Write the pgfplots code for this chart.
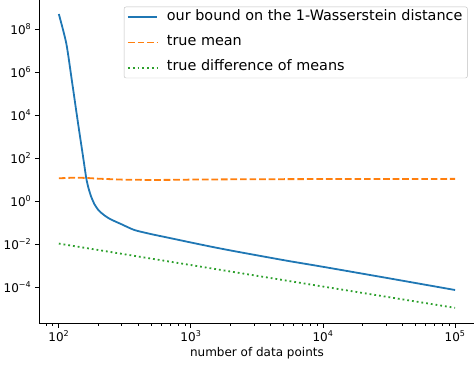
\documentclass[border=0pt]{standalone}
\usepackage{fontspec}
\setmainfont{DejaVu Sans}
\usepackage{pgfplots}
\pgfplotsset{compat=1.18}
\definecolor{c0}{HTML}{1F77B4}
\definecolor{c1}{HTML}{FF7F0E}
\definecolor{c2}{HTML}{2CA02C}
\begin{document}
\begin{tikzpicture}
\begin{axis}[
  scale only axis, width=435.9pt, height=324.1pt,
  xmode=log, ymode=log,
  xmin=70.79, xmax=141254, ymin=2.04e-6, ymax=2.51e9,
  axis line style={line width=0.96pt},
  tick align=outside, xtick pos=left, ytick pos=left,
  major tick length=4.2pt, minor tick length=2.4pt,
  every major tick/.style={line width=0.96pt, black},
  every minor tick/.style={line width=0.72pt, black},
  xtick={100,1000,10000,100000},
  xticklabels={10\textsuperscript{2},10\textsuperscript{3},10\textsuperscript{4},10\textsuperscript{5}},
  minor xtick={80,90,200,300,400,500,600,700,800,900,2000,3000,4000,5000,6000,7000,8000,9000,20000,30000,40000,50000,60000,70000,80000,90000},
  ytick={1e-4,1e-2,1,1e2,1e4,1e6,1e8},
  yticklabels={10\textsuperscript{−4},10\textsuperscript{−2},10\textsuperscript{0},10\textsuperscript{2},10\textsuperscript{4},10\textsuperscript{6},10\textsuperscript{8}},
  yminorticks=false,
  tick label style={font=\fontsize{12}{14}\selectfont},
  xlabel={number of data points},
  xlabel style={font=\fontsize{12}{14}\selectfont, yshift=1pt},
  legend cell align=left,
  legend style={at={(1,1)}, anchor=north east, xshift=-7.3pt, yshift=-7.5pt,
    draw=black!25, rounded corners=2pt, font=\fontsize{14.4}{17}\selectfont,
    nodes={text height=9.4pt, text depth=3.3pt},
    row sep=8.5pt, inner xsep=3pt, inner ysep=2pt},
  legend image code/.code={\draw[#1] (0pt,0pt) -- (29pt,0pt); \path (36pt,0pt);},
]
\addplot[c0, line width=1.8pt, smooth, tension=0.4] coordinates {
(100,5.13e8) (114,2.14e7) (126.5,2.95e5) (139.6,4467) (152.4,123) (161.4,11.5)
(168,3.9) (175.8,1.60) (186,0.72) (197.7,0.407) (209.4,0.285) (228,0.19) (248.9,0.138)
(300,0.082) (373.3,0.0450) (500,0.0290) (666.8,0.0200) (1000,0.0118) (1416,0.00759) (2123,0.00468)
(5370,0.00166) (10000,8.71e-4) (30549,2.63e-4) (100000,7.24e-5)
};
\addlegendentry{our bound on the 1-Wasserstein distance}
\addplot[c1, line width=1.8pt, dash pattern=on 6.66pt off 2.88pt] coordinates {
(100,11.5) (130,12.3) (160,12.0) (200,11.0) (300,10.0) (500,9.6) (800,9.8) (1000,10.0)
(2000,10.3) (5000,10.5) (10000,10.6) (100000,10.8)
};
\addlegendentry{true mean}
\addplot[c2, line width=1.8pt, dash pattern=on 1.8pt off 2.97pt] coordinates {
(100,0.0105) (1000,0.00105) (10000,1.05e-4) (100000,1.07e-5)
};
\addlegendentry{true difference of means}
\end{axis}
\pgfresetboundingbox
\path[use as bounding box] ([shift={(-39pt,-42.7pt)}]current axis.south west) rectangle ([shift={(-0.9pt,-0.8pt)}]current axis.north east);
\end{tikzpicture}
\end{document}
